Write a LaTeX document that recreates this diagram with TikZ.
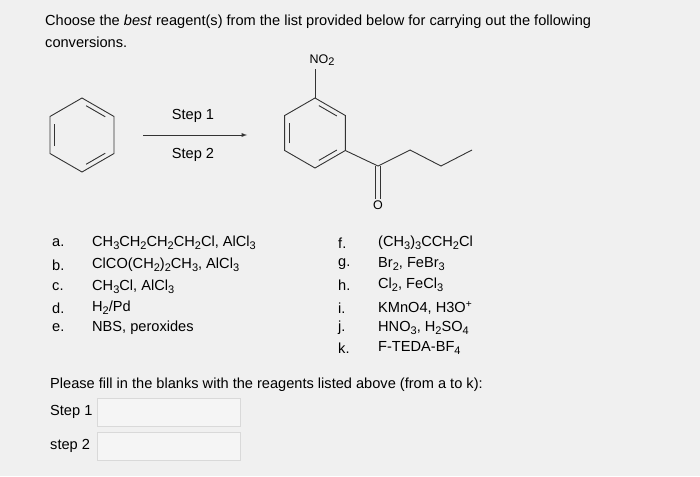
\documentclass[tikz,border=0pt]{standalone}
\usepackage{fontspec}
\setmainfont{Liberation Sans}
\usetikzlibrary{calc}
\newcommand{\chsub}[1]{\raisebox{-0.35ex}{\fontsize{11}{12}\selectfont #1}}
\begin{document}
\begin{tikzpicture}[x=1pt,y=-1pt,
  txt/.style={anchor=west,font=\fontsize{14.6}{16}\selectfont,inner sep=0},
  bond/.style={line width=0.9pt,color=black!80},
  blank/.style={draw=black!15,line width=0.8pt,fill=white!96!black,minimum width=143pt,minimum height=28pt,anchor=north west}]
\fill[black!6] (0,0) rectangle (700,476);
\useasboundingbox (0,0) rectangle (700,476);
\node[txt] (t1) at (45,22) {Choose the \textit{best} reagent(s) from the list provided below for carrying out the following};
\node[txt] (t2) at (45,42) {conversions.};
% benzene
\coordinate (bc) at (82,135);
\foreach \i in {0,...,5}{\coordinate (b\i) at ($(bc)+({270+60*\i}:37)$);}
\draw[bond] (b0)--(b1)--(b2)--(b3)--(b4)--(b5)--cycle;
\draw[bond] ($(b0)!0.15!(b1)!5pt!(bc)$)--($(b1)!0.15!(b0)!5pt!(bc)$);
\draw[bond] ($(b2)!0.15!(b3)!5pt!(bc)$)--($(b3)!0.15!(b2)!5pt!(bc)$);
\draw[bond] ($(b4)!0.15!(b5)!5pt!(bc)$)--($(b5)!0.15!(b4)!5pt!(bc)$);
% arrow
\coordinate (a1) at (143,135); \coordinate (a2) at (247,135);
\draw[bond,-latex] (a1)--(a2);
\node[txt,anchor=center] (s1) at (193,116) {Step 1};
\node[txt,anchor=center] (s2) at (193,155) {Step 2};
% product
\coordinate (pc) at (315,133);
\foreach \i in {0,...,5}{\coordinate (p\i) at ($(pc)+({270+60*\i}:35)$);}
\draw[bond] (p0)--(p1)--(p2)--(p3)--(p4)--(p5)--cycle;
\draw[bond] ($(p0)!0.15!(p1)!5pt!(pc)$)--($(p1)!0.15!(p0)!5pt!(pc)$);
\draw[bond] ($(p2)!0.15!(p3)!5pt!(pc)$)--($(p3)!0.15!(p2)!5pt!(pc)$);
\draw[bond] ($(p4)!0.15!(p5)!5pt!(pc)$)--($(p5)!0.15!(p4)!5pt!(pc)$);
\node[font=\fontsize{12.5}{14}\selectfont,inner sep=1pt] (no2) at (322,60) {NO\chsub{2}};
\draw[bond] (p0)--(315,69);
\coordinate (c1) at (378,166); \coordinate (c2) at (410,150);
\coordinate (c3) at (441,166); \coordinate (c4) at (472,150);
\draw[bond] (p2)--(c1)--(c2)--(c3)--(c4);
\node[font=\fontsize{12.5}{14}\selectfont,inner sep=1pt] (ox) at (378,205) {O};
\draw[bond] ($(c1)+(-2.2,0)$)--($(ox.north)+(-2.2,0)$);
\draw[bond] ($(c1)+(2.2,0)$)--($(ox.north)+(2.2,0)$);
% lists
\foreach \l/\t/\y in {a./{CH\chsub{3}CH\chsub{2}CH\chsub{2}CH\chsub{2}Cl, AlCl\chsub{3}}/243,
  b./{ClCO(CH\chsub{2})\chsub{2}CH\chsub{3}, AlCl\chsub{3}}/265,
  c./{CH\chsub{3}Cl, AlCl\chsub{3}}/287,
  d./{H\chsub{2}/Pd}/308,
  e./{NBS, peroxides}/328}{
  \node[txt] at (52,\y) {\l}; \node[txt] at (92,\y) {\t};}
\foreach \l/\t/\y in {f./{(CH\chsub{3})\chsub{3}CCH\chsub{2}Cl}/243,
  g./{Br\chsub{2}, FeBr\chsub{3}}/264,
  h./{Cl\chsub{2}, FeCl\chsub{3}}/285,
  i./{KMnO4, H3O\textsuperscript{+}}/308,
  j./{HNO\chsub{3}, H\chsub{2}SO\chsub{4}}/328,
  k./{F-TEDA-BF\chsub{4}}/348}{
  \node[txt] at (338,\y) {\l}; \node[txt] at (378,\y) {\t};}
\node[txt] (p) at (50,385) {Please fill in the blanks with the reagents listed above (from a to k):};
\node[txt] (st1) at (50,412) {Step 1};
\node[txt] (st2) at (50,446) {step 2};
\node[blank] (bx1) at (97,398) {};
\node[blank] (bx2) at (97,432) {};
\end{tikzpicture}
\end{document}
